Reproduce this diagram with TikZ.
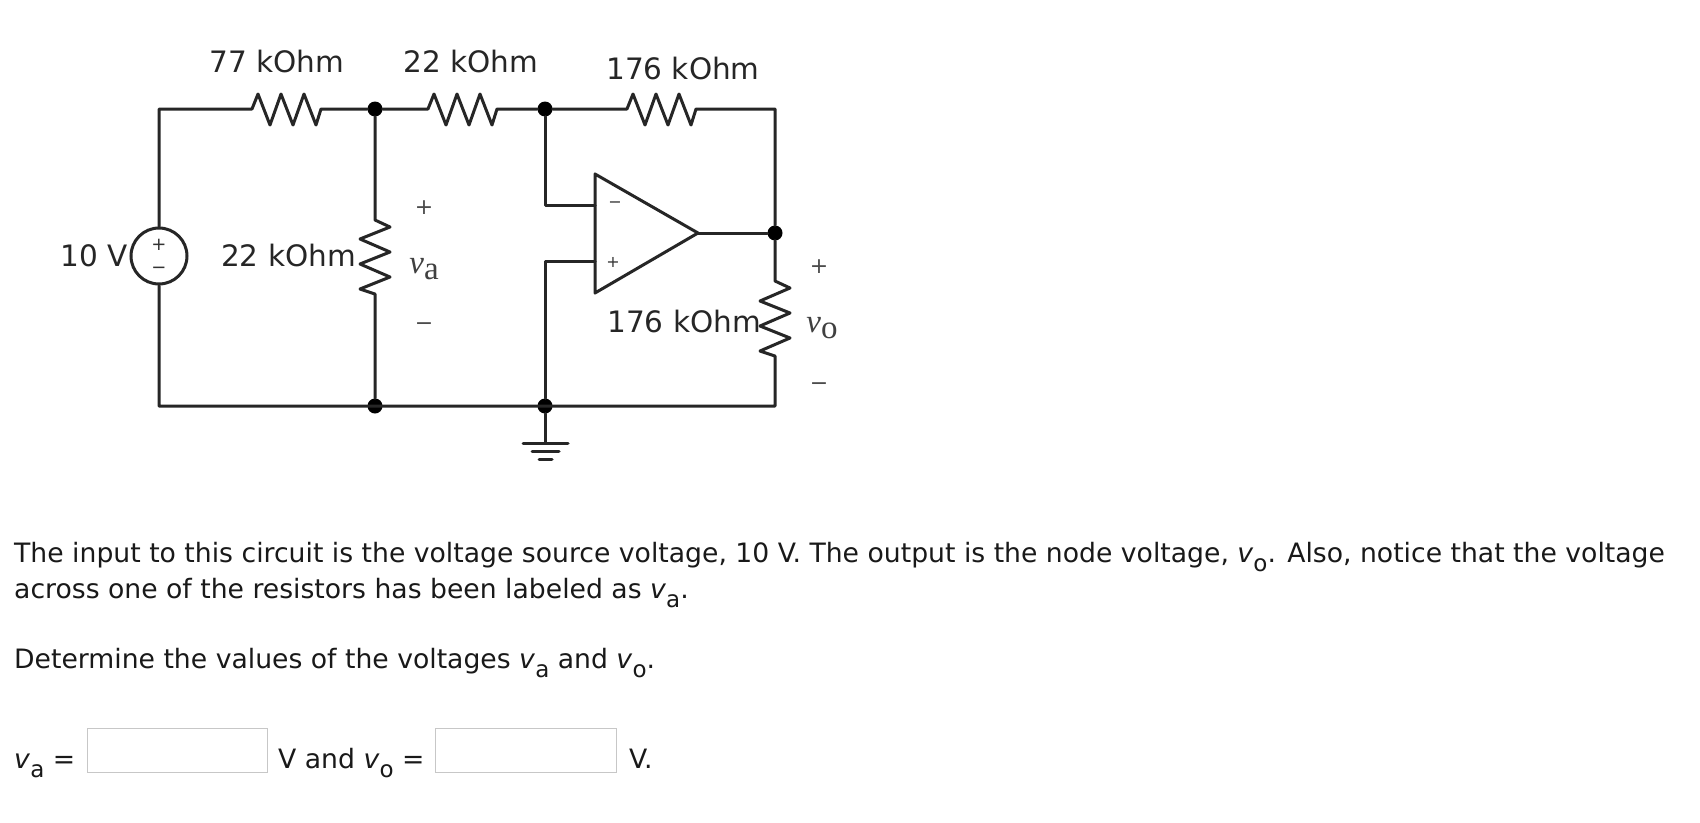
\documentclass[tikz,border=0pt]{standalone}
\usepackage{fontspec}
\setmainfont{DejaVu Sans}
\newfontfamily\serifv{Liberation Serif}
\newcommand{\vsub}[1]{\textit{v}\raisebox{-0.36em}{\fontsize{23}{23}\selectfont #1}}
\newcommand{\cvsub}[1]{{\serifv\itshape v}{\serifv\raisebox{-0.2em}{#1}}}
\begin{document}
\begin{tikzpicture}[x=1pt,y=-1pt,
  wire/.style={draw=black!85,line width=3pt,line cap=round,line join=round},
  dotn/.style={circle,fill=black,inner sep=0pt,minimum size=15pt},
  clabel/.style={font=\fontsize{29.5}{29.5}\selectfont,text=black!85,inner sep=0pt},
  sign/.style={font=\fontsize{18}{18}\selectfont,text=black!80,inner sep=0pt},
  vlabel/.style={font=\fontsize{22}{22}\selectfont,text=black!70,inner sep=0pt},
  vname/.style={font=\fontsize{33}{33}\selectfont,text=black!75,inner sep=0pt},
  mini/.style={font=\fontsize{16}{16}\selectfont,text=black!80,inner sep=0pt},
  body/.style={font=\fontsize{26.65}{26.65}\selectfont,text=black!90,inner sep=0pt,anchor=base west},
  ansbox/.style={draw=black!22,line width=1.3pt,rectangle,inner sep=0pt,anchor=north west},
  srcn/.style={circle,draw=black!85,line width=3pt,minimum size=56pt,inner sep=0pt}]
\useasboundingbox (0,0) rectangle (1700,822);
\fill[white] (0,0) rectangle (1700,822);
% corners and junctions
\coordinate (tl) at (159,109);
\coordinate (bl) at (159,406);
\coordinate (tr) at (775,109);
\coordinate (br) at (775,406);
\node[dotn] (n1) at (375,109) {};
\node[dotn] (n2) at (545,109) {};
\node[dotn] (n3) at (375,406) {};
\node[dotn] (n4) at (545,406) {};
\node[dotn] (n5) at (775,233) {};
\node[srcn] (src) at (159,256) {};
% op amp
\coordinate (oa) at (595,174);
\coordinate (ob) at (595,293);
\coordinate (oc) at (698,233);
\coordinate (im) at (595,205);
\coordinate (ip) at (595,261);
\coordinate (wm) at (545,205);
\coordinate (wp) at (545,261);
\draw[wire] (oa) -- (oc) -- (ob) -- cycle;
% wires
\draw[wire] (src.north) -- (tl) -- ++(93,0) -- ++(6,-15) -- ++(12,31) -- ++(11,-31) -- ++(12,31) -- ++(11,-31) -- ++(12,31) -- ++(5,-16) -- (n1)
  -- ++(53,0) -- ++(6,-15) -- ++(12,31) -- ++(11,-31) -- ++(12,31) -- ++(11,-31) -- ++(12,31) -- ++(5,-16) -- (n2)
  -- ++(82,0) -- ++(6,-15) -- ++(12,31) -- ++(11,-31) -- ++(12,31) -- ++(11,-31) -- ++(12,31) -- ++(5,-16) -- (tr) -- (n5);
\draw[wire] (src.south) -- (bl) -- (br) -- ++(0,-50) -- ++(-15,-5) -- ++(30,-13) -- ++(-30,-12) -- ++(30,-13) -- ++(-30,-12) -- ++(30,-13) -- ++(-15,-7) -- (n5);
\draw[wire] (n1) -- ++(0,111) -- ++(15,7) -- ++(-30,12) -- ++(30,13) -- ++(-30,12) -- ++(30,13) -- ++(-30,12) -- ++(15,5) -- (n3);
\draw[wire] (n2) -- (wm) -- (im);
\draw[wire] (n4) -- (wp) -- (ip);
\draw[wire] (oc) -- (n5);
% ground
\coordinate (g1) at (545,443);
\coordinate (g1l) at (523,443);
\coordinate (g1r) at (568,443);
\coordinate (g2l) at (532,451);
\coordinate (g2r) at (559,451);
\coordinate (g3l) at (539,459);
\coordinate (g3r) at (552,459);
\draw[wire] (n4) -- (g1);
\draw[wire] (g1l) -- (g1r);
\draw[wire] (g2l) -- (g2r);
\draw[wire] (g3l) -- (g3r);
% labels
\node[clabel,anchor=base] (l1) at (277,72) {77 kOhm};
\node[clabel,anchor=base] (l2) at (471,72) {22 kOhm};
\node[clabel,anchor=base] (l3) at (683,79) {176 kOhm};
\node[clabel,anchor=base east] (l4) at (128,266) {10 V};
\node[clabel,anchor=base east] (l5) at (356,266) {22 kOhm};
\node[clabel,anchor=base east] (l6) at (761,332) {176 kOhm};
\node[sign] (s1) at (159,245) {+};
\node[sign] (s2) at (159,270) {\textminus};
\node[mini] (m1) at (615,205) {\textminus};
\node[mini] (m2) at (613,262) {+};
\node[vlabel,anchor=base] (p1) at (424,214) {+};
\node[vlabel,anchor=base] (p2) at (424,330) {\textminus};
\node[vlabel,anchor=base] (p3) at (819,273) {+};
\node[vlabel,anchor=base] (p4) at (819,390) {\textminus};
\node[vname,anchor=base] (va) at (424,273) {\cvsub{a}};
\node[vname,anchor=base] (vo) at (822,332) {\cvsub{o}};
% question text
\node[body] (t1) at (14,562) {The input to this circuit is the voltage source voltage, 10 V. The output is the node voltage, \vsub{o}. Also, notice that the voltage};
\node[body] (t2) at (14,598) {across one of the resistors has been labeled as \vsub{a}.};
\node[body] (t3) at (14,668) {Determine the values of the voltages \vsub{a} and \vsub{o}.};
\node[body] (t4) at (14,768) {\vsub{a} =};
\node[ansbox,minimum width=180pt,minimum height=44pt] (b1) at (87,728) {};
\node[body] (t5) at (278,768) {V and \vsub{o} =};
\node[ansbox,minimum width=181pt,minimum height=44pt] (b2) at (435,728) {};
\node[body] (t6) at (629,768) {V.};
\end{tikzpicture}
\end{document}
